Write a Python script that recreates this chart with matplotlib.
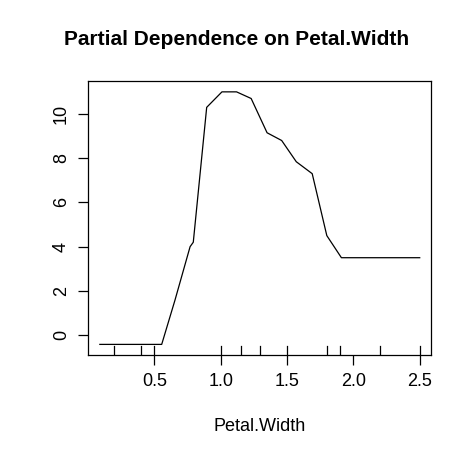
import matplotlib
matplotlib.use("Agg")
import matplotlib.pyplot as plt

# partial dependence curve
pw = [0.09, 0.556, 0.656, 0.77, 0.794, 0.895, 1.01, 1.12, 1.23, 1.35, 1.46, 1.57, 1.69, 1.80, 1.91, 2.5]
pd_val = [-0.42, -0.42, 1.58, 4.0, 4.2, 10.3, 11.0, 11.0, 10.7, 9.15, 8.8, 7.84, 7.3, 4.5, 3.5, 3.5]
# deciles shown as a rug
rug = [0.2, 0.4, 0.5, 1.0, 1.15, 1.3, 1.5, 1.8, 1.9, 2.2, 2.5]
xticks = [0.5, 1.0, 1.5, 2.0, 2.5]
yticks = [0, 2, 4, 6, 8, 10]

plt.rcParams['font.family'] = ['Liberation Sans', 'DejaVu Sans']
fig = plt.figure(figsize=(4.74, 4.63), dpi=100)
ax = fig.add_axes([0.186, 0.233, 0.723, 0.592])
ax.plot(pw, pd_val, color="black", lw=0.9)
ax.set_xlim(0.002, 2.584)
ax.set_ylim(-0.905, 11.49)
for r in rug:
    ax.plot([r, r], [-0.905, -0.5], color="black", lw=0.9)

ax.set_xticks(xticks)
ax.set_xticklabels(["0.5", "1.0", "1.5", "2.0", "2.5"])
ax.set_yticks(yticks)
ax.set_yticklabels([str(v) for v in yticks], rotation=90, va="center")
ax.tick_params(length=7, width=0.9, labelsize=13, pad=6)
for s in ax.spines.values():
    s.set_linewidth(0.9)

ax.set_xlabel("Petal.Width", fontsize=13, labelpad=20)
fig.text(0.5, 0.915, "Partial Dependence on Petal.Width", ha="center", va="center",
         fontsize=15, fontweight="bold")

fig.savefig("out.png", dpi=100)
